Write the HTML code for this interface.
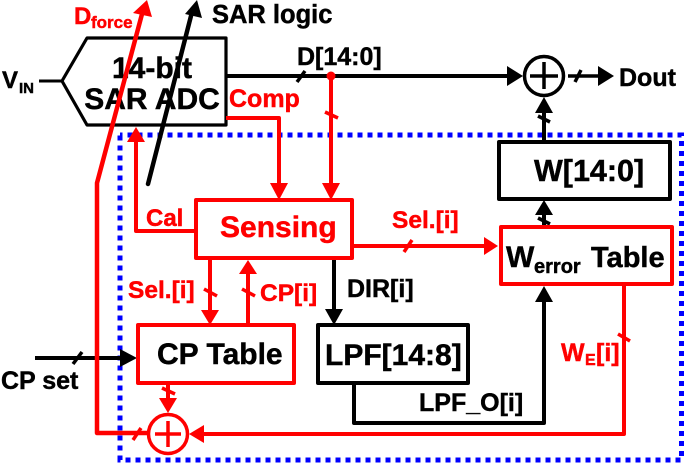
<!DOCTYPE html>
<html><head><meta charset="utf-8">
<style>html,body{margin:0;padding:0;background:#fff}svg{display:block}
text{font-family:"Liberation Sans",sans-serif;font-weight:bold;stroke-width:.45px;paint-order:stroke}</style></head>
<body>
<svg width="685" height="463" viewBox="0 0 685 463" xmlns="http://www.w3.org/2000/svg">
<rect width="685" height="463" fill="#fff"/>
<!-- blue dotted frame -->
<rect x="120" y="135" width="561.5" height="325" fill="none" stroke="#0000ff" stroke-width="5" stroke-dasharray="5 5" stroke-dashoffset="2.5"/>

<!-- ADC -->
<polygon points="62,81 87,38 226,38 226,125 87,125" fill="none" stroke="#000" stroke-width="3.2" stroke-linejoin="round"/>
<line x1="39" y1="81" x2="62" y2="81" stroke="#000" stroke-width="3"/>
<g fill="#000" stroke="#000" font-size="30" text-anchor="middle">
<text x="152" y="78">14-bit</text>
<text x="152" y="109">SAR ADC</text>
</g>

<!-- black connectors -->
<g fill="none" stroke="#000" stroke-linejoin="round">
<line x1="226" y1="76" x2="508" y2="76" stroke-width="4"/>
<line x1="568" y1="76" x2="600" y2="76" stroke-width="3.5"/>
<line x1="544" y1="142" x2="544" y2="110" stroke-width="4"/>
<line x1="544" y1="227" x2="544" y2="212" stroke-width="4"/>
<line x1="334" y1="258" x2="334" y2="311" stroke-width="4"/>
<polyline points="354,383 354,423 544,423 544,300" stroke-width="4"/>
<line x1="35" y1="358" x2="122" y2="358" stroke-width="4"/>
<line x1="148" y1="184" x2="192" y2="12" stroke-width="4.5" stroke-linecap="round"/>
<!-- slashes -->
<g stroke-width="3.5">
<line x1="297" y1="82" x2="305" y2="71"/>
<line x1="575" y1="82" x2="581" y2="70"/>
<line x1="538" y1="116" x2="550" y2="122"/>
<line x1="538" y1="218" x2="550" y2="224"/>
<line x1="73" y1="364" x2="82" y2="352"/>
</g>
<circle cx="544" cy="76" r="19.5" stroke-width="3.5" fill="#fff"/>
<line x1="530" y1="76" x2="558" y2="76" stroke-width="3.5"/>
<line x1="544" y1="62" x2="544" y2="89" stroke-width="3.5"/>
</g>
<g fill="#000">
<polygon points="523,76 507,66 507,86"/>
<polygon points="614,76 598,66 598,86"/>
<polygon points="544,97 553,113 535,113"/>
<polygon points="544,200 553,215 535,215"/>
<polygon points="334,325 325,309 343,309"/>
<polygon points="544,286 553,302 535,302"/>
<polygon points="137,358 120,349 120,367"/>
<polygon points="197,0 202,18 185,14"/>
</g>

<!-- red connectors -->
<g fill="none" stroke="#ff0000" stroke-linejoin="round">
<line x1="331" y1="76" x2="331" y2="185" stroke-width="4"/>
<polyline points="226,118 279,118 279,185" stroke-width="4"/>
<polyline points="196,231 136,231 136,140" stroke-width="4"/>
<polyline points="148,433 97,433 97,183 142,14" stroke-width="4.5"/>
<line x1="352" y1="246" x2="486" y2="246" stroke-width="4"/>
<line x1="210" y1="258" x2="210" y2="312" stroke-width="4"/>
<line x1="248" y1="325" x2="248" y2="272" stroke-width="4"/>
<line x1="168" y1="383" x2="168" y2="400" stroke-width="4"/>
<polyline points="624,284 624,434 202,434" stroke-width="4"/>
<g stroke-width="3.5">
<line x1="325" y1="112" x2="338" y2="118"/>
<line x1="404" y1="252" x2="412" y2="240"/>
<line x1="204" y1="289" x2="217" y2="296"/>
<line x1="242" y1="289" x2="255" y2="296"/>
<line x1="162" y1="388" x2="175" y2="394"/>
<line x1="618" y1="334" x2="630" y2="341"/>
<line x1="133" y1="440" x2="141" y2="428"/>
</g>
<circle cx="168" cy="434" r="19.5" stroke-width="3.5" fill="#fff"/>
<line x1="155" y1="434" x2="181" y2="434" stroke-width="3.5"/>
<line x1="168" y1="421" x2="168" y2="447" stroke-width="3.5"/>
</g>
<g fill="#ff0000">
<circle cx="331" cy="76" r="4.5"/>
<polygon points="331,200 322,183 340,183"/>
<polygon points="279,200 270,183 288,183"/>
<polygon points="136,127 145,142 127,142"/>
<polygon points="147,0 152,17 133,13"/>
<polygon points="498,246 484,237 484,255"/>
<polygon points="210,325 201,310 219,310"/>
<polygon points="248,260 257,274 239,274"/>
<polygon points="168,413 159,398 177,398"/>
<polygon points="189,434 204,425 204,443"/>
</g>

<!-- boxes -->
<rect x="196" y="200" width="156" height="58" fill="#fff" stroke="#ff0000" stroke-width="4" stroke-linejoin="round"/>
<rect x="499" y="142" width="171" height="57" fill="#fff" stroke="#000" stroke-width="4" stroke-linejoin="round"/>
<rect x="501" y="227" width="171" height="57" fill="#fff" stroke="#ff0000" stroke-width="4" stroke-linejoin="round"/>
<rect x="138" y="325" width="156" height="58" fill="#fff" stroke="#ff0000" stroke-width="4" stroke-linejoin="round"/>
<rect x="318" y="325" width="150" height="58" fill="#fff" stroke="#000" stroke-width="4" stroke-linejoin="round"/>

<!-- black labels -->
<g fill="#000" stroke="#000">
<text x="2" y="88" font-size="24">V</text><text x="19" y="93" font-size="15">IN</text>
<text x="212" y="23" font-size="25.5">SAR logic</text>
<text x="297" y="65" font-size="25">D[14:0]</text>
<text x="619" y="86" font-size="25">Dout</text>
<text x="534" y="181" font-size="30.5">W[14:0]</text>
<text x="506" y="267" font-size="30">W</text><text x="534" y="273" font-size="20">error</text><text x="591" y="267" font-size="29">Table</text>
<text x="347" y="297" font-size="25">DIR[i]</text>
<text x="157" y="364" font-size="30">CP Table</text>
<text x="325" y="365" font-size="30">LPF[14:8]</text>
<text x="419" y="411" font-size="25">LPF_O[i]</text>
<text x="1" y="389" font-size="25">CP set</text>
</g>
<!-- red labels -->
<g fill="#ff0000" stroke="#ff0000">
<text x="74" y="24" font-size="24">D</text><text x="91" y="28" font-size="17">force</text>
<text x="229" y="107" font-size="25">Comp</text>
<text x="146" y="226" font-size="24">Cal</text>
<text x="220" y="237" font-size="30">Sensing</text>
<text x="392" y="228" font-size="24.5">Sel.[i]</text>
<text x="128" y="298" font-size="24.5">Sel.[i]</text>
<text x="260" y="301" font-size="24.5">CP[i]</text>
<text x="561" y="361" font-size="25">W</text><text x="585" y="365" font-size="16">E</text><text x="596" y="361" font-size="25">[i]</text>
</g>
</svg>
</body></html>
